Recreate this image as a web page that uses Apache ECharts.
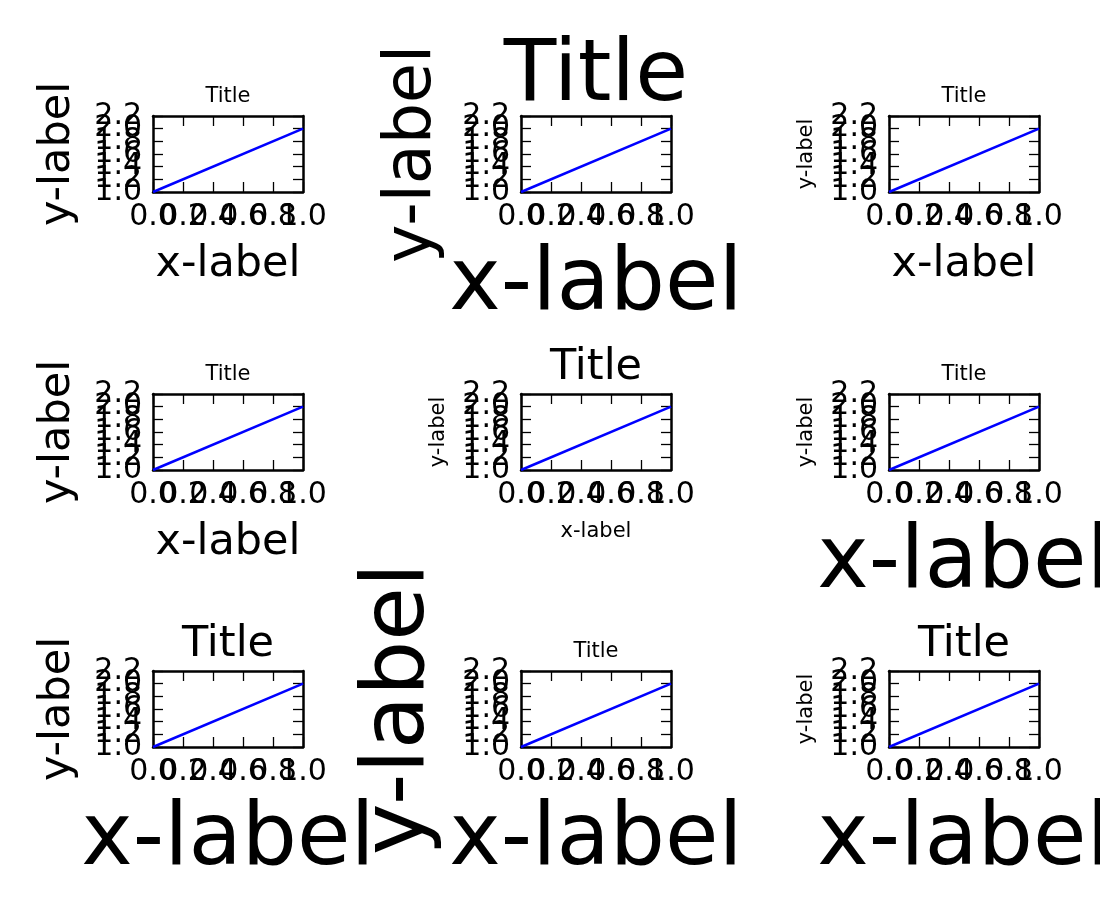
<!DOCTYPE html>
<html>
<head>
<meta charset="utf-8">
<script src="https://cdn.jsdelivr.net/npm/echarts@6/dist/echarts.min.js"></script>
<style>
html,body{margin:0;padding:0;background:#fff;}
#chart{width:1100px;height:900px;}
</style>
</head>
<body>
<div id="chart"></div>
<script>
// ---- data ----
const xTickValues = [0.0, 0.2, 0.4, 0.6, 0.8, 1.0];
const yTickValues = [1.0, 1.2, 1.4, 1.6, 1.8, 2.0, 2.2];
const lineXs = [0, 1];
const lineYs = [1, 2];
const titleTexts = ['Title','Title','Title','Title','Title','Title','Title','Title','Title'];
const xLabelTexts = ['x-label','x-label','x-label','x-label','x-label','x-label','x-label','x-label','x-label'];
const yLabelTexts = ['y-label','y-label','y-label','y-label','y-label','y-label','y-label','y-label','y-label'];

// ---- style / layout ----
const FONT = 'DejaVu Sans';
const titleFs = [21, 86, 21, 21, 43, 21, 43, 21, 43];
const yFs     = [43, 65, 21, 43, 21, 21, 43, 87, 21];
const xFs     = [43, 87, 43, 43, 21, 87, 87, 87, 87];
const colLefts = [153, 521, 889];
const rowTops = [116, 394, 671];
const boxW = 150, boxH = 76;
const tickFs = 30;
const LABEL_GROUPS = 3; // split tick labels over several axes so none get auto-hidden

const xInterval = Math.round((xTickValues[1] - xTickValues[0]) * 10) / 10;
const yInterval = Math.round((yTickValues[1] - yTickValues[0]) * 10) / 10;
const xMin = xTickValues[0], xMax = xTickValues[xTickValues.length - 1];
const yMin = yTickValues[0], yMax = yTickValues[yTickValues.length - 1];

const grids = [], xAxes = [], yAxes = [], series = [];
const lineData = lineXs.map((x, i) => [x, lineYs[i]]);

function titleGap(s) {
  if (s < 30) return 8.8;
  if (s < 60) return 4.9;
  return -5;
}

const lineStyleAxis = { color: '#000', width: 2.5 };
const tickStyle = { show: true, inside: true, length: 10, lineStyle: { color: '#000', width: 1.3 } };
const labelText = { color: '#000', fontFamily: FONT, fontSize: tickFs, formatter: v => v.toFixed(1) };

for (let r = 0; r < 3; r++) {
  for (let c = 0; c < 3; c++) {
    const k = r * 3 + c;
    grids.push({
      left: colLefts[c], top: rowTops[r], width: boxW, height: boxH,
      containLabel: false, outerBoundsMode: 'none', show: false
    });
    const xBase = xAxes.length, yBase = yAxes.length;
    const xCommon = { type: 'value', gridIndex: k, min: xMin, max: xMax, interval: xInterval,
      splitLine: { show: false }, nameMoveOverlap: false };
    const yCommon = { type: 'value', gridIndex: k, min: yMin, max: yMax, interval: yInterval,
      splitLine: { show: false }, nameMoveOverlap: false };
    // bottom x: spine, ticks, x-label
    xAxes.push(Object.assign({}, xCommon, {
      position: 'bottom',
      axisLine: { show: true, onZero: false, lineStyle: lineStyleAxis },
      axisTick: tickStyle,
      axisLabel: { show: false },
      name: xLabelTexts[k], nameLocation: 'middle', nameGap: 51,
      nameTextStyle: { color: '#000', fontFamily: FONT, fontSize: xFs[k] }
    }));
    // top x: spine, ticks, title
    xAxes.push(Object.assign({}, xCommon, {
      position: 'top',
      axisLine: { show: true, onZero: false, lineStyle: lineStyleAxis },
      axisTick: tickStyle,
      axisLabel: { show: false },
      name: titleTexts[k], nameLocation: 'middle', nameGap: titleGap(titleFs[k]),
      nameTextStyle: { color: '#000', fontFamily: FONT, fontSize: titleFs[k] }
    }));
    // bottom x tick label groups
    for (let g = 0; g < LABEL_GROUPS; g++) {
      xAxes.push(Object.assign({}, xCommon, {
        position: 'bottom',
        axisLine: { show: false, onZero: false },
        axisTick: { show: false },
        axisLabel: Object.assign({ show: true, margin: 10.5,
          customValues: xTickValues.filter((_, i) => i % LABEL_GROUPS === g) }, labelText)
      }));
    }
    // left y: spine, ticks, y-label
    yAxes.push(Object.assign({}, yCommon, {
      position: 'left',
      axisLine: { show: true, onZero: false, lineStyle: lineStyleAxis },
      axisTick: tickStyle,
      axisLabel: { show: false },
      name: yLabelTexts[k], nameLocation: 'middle', nameGap: 70 + 0.082 * yFs[k],
      nameTextStyle: { color: '#000', fontFamily: FONT, fontSize: yFs[k] }
    }));
    // right y: spine, ticks
    yAxes.push(Object.assign({}, yCommon, {
      position: 'right',
      axisLine: { show: true, onZero: false, lineStyle: lineStyleAxis },
      axisTick: tickStyle,
      axisLabel: { show: false }
    }));
    // left y tick label groups
    for (let g = 0; g < LABEL_GROUPS; g++) {
      yAxes.push(Object.assign({}, yCommon, {
        position: 'left',
        axisLine: { show: false, onZero: false },
        axisTick: { show: false },
        axisLabel: Object.assign({ show: true, margin: 11,
          customValues: yTickValues.filter((_, i) => i % LABEL_GROUPS === g) }, labelText)
      }));
    }
    series.push({
      type: 'line', xAxisIndex: xBase, yAxisIndex: yBase,
      data: lineData, symbol: 'none', silent: true, animation: false,
      lineStyle: { color: '#0000ff', width: 2.5 }, z: 1
    });
  }
}

const chart = echarts.init(document.getElementById('chart'), null, { renderer: 'canvas' });
chart.setOption({
  backgroundColor: '#ffffff',
  animation: false,
  textStyle: { fontFamily: FONT },
  grid: grids,
  xAxis: xAxes,
  yAxis: yAxes,
  series: series
});
</script>
</body>
</html>
